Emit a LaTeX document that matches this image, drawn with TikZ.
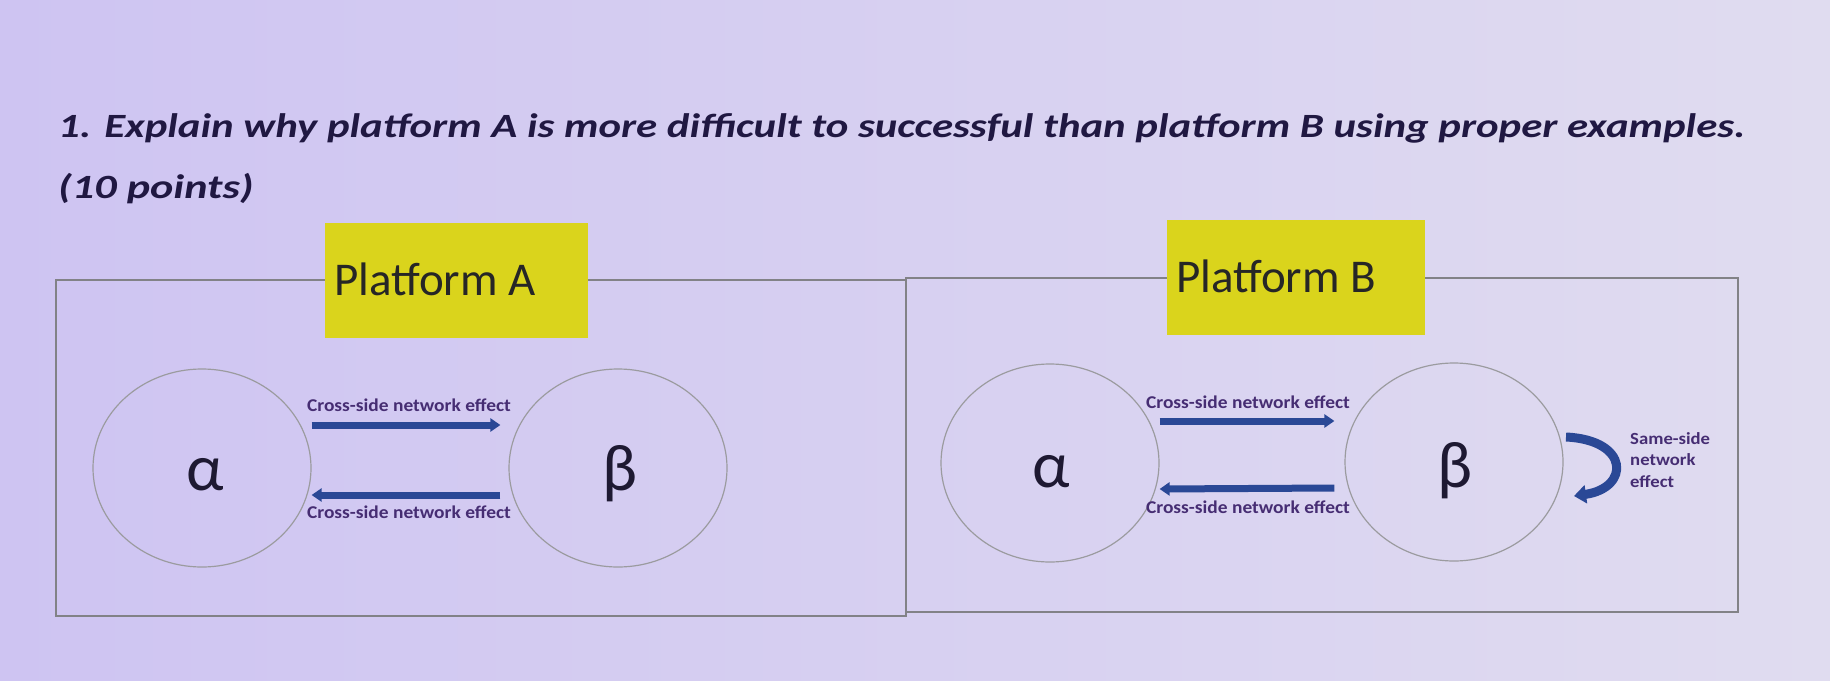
\documentclass[tikz,border=0pt]{standalone}
\usepackage{fontspec}
\setmainfont{Carlito}
\usetikzlibrary{shapes.geometric,arrows.meta}
\definecolor{bgL}{RGB}{206,196,242}
\definecolor{bgR}{RGB}{224,220,240}
\definecolor{hiyel}{RGB}{218,212,28}
\definecolor{boxline}{RGB}{130,130,135}
\definecolor{arrblue}{RGB}{42,72,150}
\definecolor{titlecol}{RGB}{32,24,66}
\definecolor{labcol}{RGB}{70,45,115}
\definecolor{greek}{RGB}{30,25,50}
\tikzset{
  panel/.style={draw=boxline,line width=1.2pt},
  hilite/.style={fill=hiyel,draw=none,inner sep=0pt},
  ptitle/.style={font=\fontsize{47}{50}\selectfont,text=black!85},
  side/.style={ellipse,draw=boxline!80,line width=1.2pt,minimum width=218pt,minimum height=198pt,inner sep=0pt},
  greekl/.style={font=\fontsize{66}{70}\selectfont,text=greek,anchor=base,inner sep=0pt},
  cse/.style={line width=7pt,draw=arrblue,-{Triangle[length=10pt,width=13pt]}},
  cselab/.style={font=\bfseries\fontsize{18}{20}\selectfont,text=labcol,inner sep=0pt},
  qtext/.style={anchor=base west,inner sep=0pt,text=titlecol,font=\bfseries\itshape\fontsize{34}{40}\selectfont},
}
\newcommand{\wide}[2]{\scalebox{#1}[1]{#2}}
\begin{document}
\begin{tikzpicture}[x=1pt,y=-1pt]
\useasboundingbox (0,0) rectangle (1830,680);
\shade[left color=bgL,right color=bgR] (0,0) rectangle (1830,680);
% title
\node[qtext] (q) at (58,137) {\wide{1.26}{1. Explain why platform A is more difficult to successful than platform B using proper examples.}};
\node[qtext] (pts) at (58,198) {\wide{1.3}{(10 points)}};
% panels
\draw[panel] (56,280) rectangle (906,616);
\draw[panel] (906,278) rectangle (1738,612);
% Platform A
\fill[hilite] (325,223) rectangle (588,338);
\node[ptitle,anchor=base west,inner sep=0pt] (tA) at (334,295) {Platform A};
\node[side] (aA) at (202,468) {};
\node[side] (bA) at (618,468) {};
\node[greekl] (galA) at (205,490) {α};
\node[greekl] (gbA) at (620,490) {β};
\draw[cse] ([yshift=43pt]aA.east) -- ([yshift=43pt,xshift=-8pt]bA.west);
\draw[cse] ([yshift=-27pt,xshift=-8pt]bA.west) -- ([yshift=-27pt]aA.east);
\node[cselab] (lA1) at (409,405) {\wide{1.08}{Cross-side network effect}};
\node[cselab] (lA2) at (409,512) {\wide{1.08}{Cross-side network effect}};
% Platform B
\fill[hilite] (1167,220) rectangle (1425,335);
\node[ptitle,anchor=base west,inner sep=0pt] (tB) at (1176,292) {Platform B};
\node[side] (aB) at (1050,463) {};
\node[side] (bB) at (1454,462) {};
\node[greekl] (galB) at (1051,487) {α};
\node[greekl] (gbB) at (1455,487) {β};
\draw[cse] ([yshift=42pt]aB.east) -- ([yshift=41pt,xshift=-10pt]bB.west);
\draw[cse] ([yshift=-26pt,xshift=-10pt]bB.west) -- ([yshift=-26pt]aB.east);
\node[cselab] (lB1) at (1248,402) {\wide{1.08}{Cross-side network effect}};
\node[cselab] (lB2) at (1248,507) {\wide{1.08}{Cross-side network effect}};
% same-side loop
\coordinate (s0) at (1566,437);
\coordinate (s1) at (1574,496);
\draw[line width=9pt,draw=arrblue,-{Triangle[length=12pt,width=18pt]}] (s0) .. controls (1630,440) and (1630,488) .. (s1);
\node[anchor=north west,align=left,inner sep=0pt,text=labcol,font=\bfseries\fontsize{17}{21.5}\selectfont] (same) at (1630,432) {\wide{1.1}{Same-side}\\\wide{1.1}{network}\\\wide{1.1}{effect}};
\end{tikzpicture}
\end{document}
